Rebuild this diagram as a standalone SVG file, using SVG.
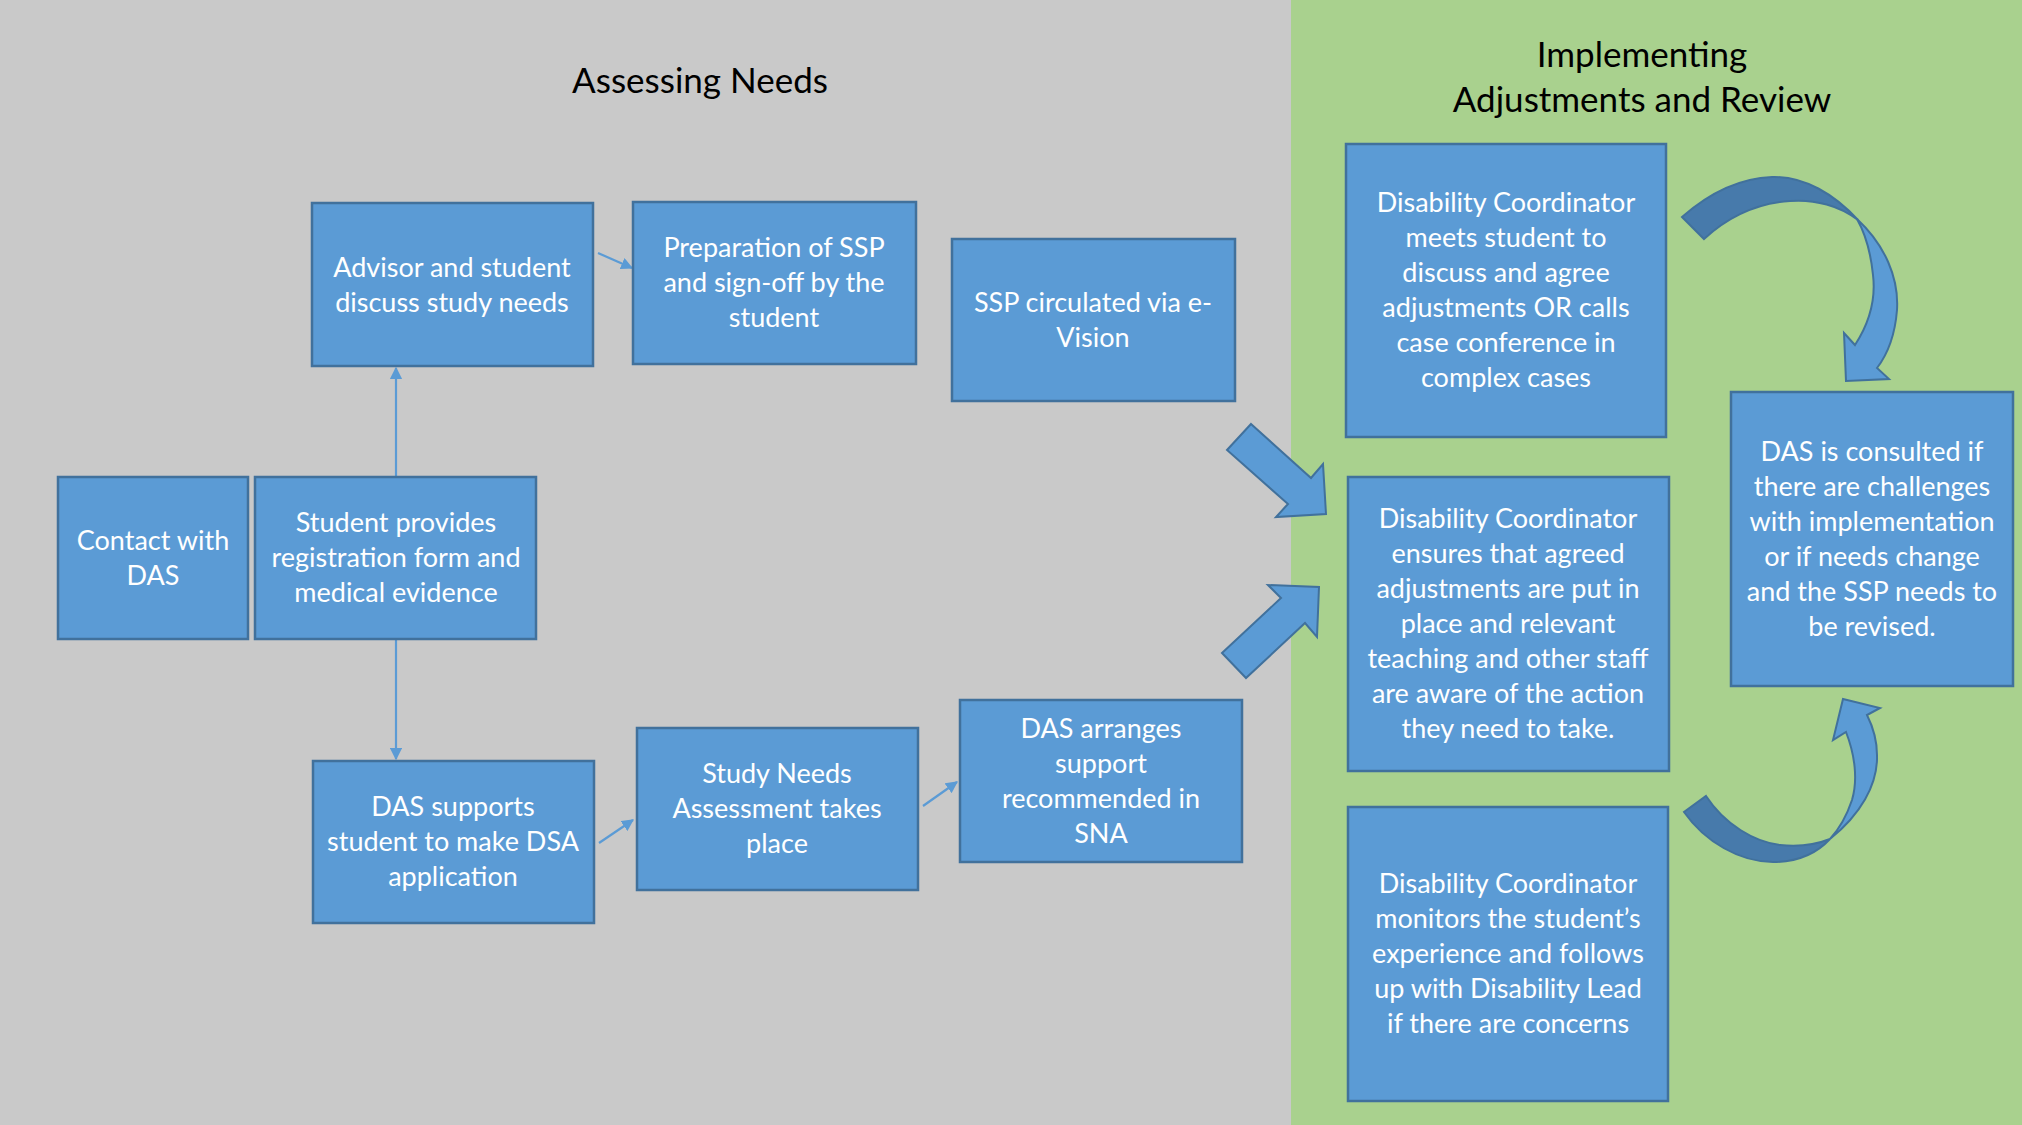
<svg xmlns="http://www.w3.org/2000/svg" width="2022" height="1125" viewBox="0 0 2022 1125">
<defs>
<style>
.box{fill:#5b9bd5;stroke:#41719c;stroke-width:2.5}
.t{font-family:Lato,"Open Sans","Liberation Sans",sans-serif;font-size:27px;fill:#ffffff;text-anchor:middle}
.title{font-family:Lato,"Open Sans","Liberation Sans",sans-serif;font-size:35px;fill:#000000;text-anchor:middle}
.conn{stroke:#5b9bd5;stroke-width:2.2;fill:none;marker-end:url(#ah)}
.blk{fill:#5b9bd5;stroke:#41719c;stroke-width:2;stroke-linejoin:miter}
.dark{fill:#477aab;stroke:#41719c;stroke-width:2}
</style>
<marker id="ah" viewBox="0 0 10 10" refX="9" refY="5" markerWidth="5.5" markerHeight="5.5" orient="auto" markerUnits="strokeWidth">
<path d="M0,0 L10,5 L0,10 Z" fill="#5b9bd5"/>
</marker>
</defs>
<rect x="0" y="0" width="1291" height="1125" fill="#c9c9c9"/>
<rect x="1291" y="0" width="731" height="1125" fill="#a9d18e"/>
<g id="titles">
<text class="title" x="700" y="93">Assessing Needs</text>
<text class="title" x="1642" y="67">Implementing</text>
<text class="title" x="1642" y="112">Adjustments and Review</text>
</g>
<g id="connectors">
<line class="conn" x1="396" y1="477" x2="396" y2="368"/>
<line class="conn" x1="396" y1="639" x2="396" y2="759"/>
<line class="conn" x1="598" y1="253" x2="632" y2="268"/>
<line class="conn" x1="599" y1="843" x2="633" y2="820"/>
<line class="conn" x1="923" y1="806" x2="957" y2="782"/>
<polygon class="blk" points="1251,424 1311,478 1323,464 1326,514 1276,517 1288,504 1227,450"/>
<polygon class="blk" points="1222,653 1281,598 1268,585 1319,587 1317,637 1305,623 1246,678"/>
<path class="dark" d="M1682,217 C1715,188 1745,178 1772,177 C1805,176 1835,195 1858,220 C1840,206 1815,199 1790,201 C1760,203 1730,215 1704,239 Z"/>
<path class="blk" d="M1857,219 C1885,245 1899,278 1897,310 C1895,335 1887,355 1877,368 L1889,379 L1846,381 L1844,333 L1855,345 C1868,325 1876,300 1873,275 C1871,255 1866,235 1857,219 Z"/>
<path class="dark" d="M1684,812 C1705,842 1740,862 1773,862 C1800,862 1818,852 1830,839 C1815,845 1800,847 1780,845 C1755,842 1725,825 1706,796 Z"/>
<path class="blk" d="M1830,839 C1860,815 1878,785 1877,755 C1877,740 1872,725 1867,715 L1880,708 L1843,699 L1833,740 L1846,732 C1855,755 1858,780 1852,800 C1847,815 1840,828 1830,839 Z"/>
</g>
<g id="contact">
<rect class="box" x="58" y="477" width="190" height="162"/>
<text class="t" x="153" y="550">Contact with</text>
<text class="t" x="153" y="585">DAS</text>
</g>
<g id="student-provides">
<rect class="box" x="255" y="477" width="281" height="162"/>
<text class="t" x="396" y="532">Student provides</text>
<text class="t" x="396" y="567">registration form and</text>
<text class="t" x="396" y="602">medical evidence</text>
</g>
<g id="advisor">
<rect class="box" x="312" y="203" width="281" height="163"/>
<text class="t" x="452" y="277">Advisor and student</text>
<text class="t" x="452" y="312">discuss study needs</text>
</g>
<g id="preparation">
<rect class="box" x="633" y="202" width="283" height="162"/>
<text class="t" x="774" y="257">Preparation of SSP</text>
<text class="t" x="774" y="292">and sign-off by the</text>
<text class="t" x="774" y="327">student</text>
</g>
<g id="circulated">
<rect class="box" x="952" y="239" width="283" height="162"/>
<text class="t" x="1093" y="312">SSP circulated via e-</text>
<text class="t" x="1093" y="347">Vision</text>
</g>
<g id="das-supports">
<rect class="box" x="313" y="761" width="281" height="162"/>
<text class="t" x="453" y="816">DAS supports</text>
<text class="t" x="453" y="851">student to make DSA</text>
<text class="t" x="453" y="886">application</text>
</g>
<g id="sna">
<rect class="box" x="637" y="728" width="281" height="162"/>
<text class="t" x="777" y="783">Study Needs</text>
<text class="t" x="777" y="818">Assessment takes</text>
<text class="t" x="777" y="853">place</text>
</g>
<g id="das-arranges">
<rect class="box" x="960" y="700" width="282" height="162"/>
<text class="t" x="1101" y="738">DAS arranges</text>
<text class="t" x="1101" y="773">support</text>
<text class="t" x="1101" y="808">recommended in</text>
<text class="t" x="1101" y="843">SNA</text>
</g>
<g id="dc-meets">
<rect class="box" x="1346" y="144" width="320" height="293"/>
<text class="t" x="1506" y="212">Disability Coordinator</text>
<text class="t" x="1506" y="247">meets student to</text>
<text class="t" x="1506" y="282">discuss and agree</text>
<text class="t" x="1506" y="317">adjustments OR calls</text>
<text class="t" x="1506" y="352">case conference in</text>
<text class="t" x="1506" y="387">complex cases</text>
</g>
<g id="dc-ensures">
<rect class="box" x="1348" y="477" width="321" height="294"/>
<text class="t" x="1508" y="528">Disability Coordinator</text>
<text class="t" x="1508" y="563">ensures that agreed</text>
<text class="t" x="1508" y="598">adjustments are put in</text>
<text class="t" x="1508" y="633">place and relevant</text>
<text class="t" x="1508" y="668">teaching and other staff</text>
<text class="t" x="1508" y="703">are aware of the action</text>
<text class="t" x="1508" y="738">they need to take.</text>
</g>
<g id="dc-monitors">
<rect class="box" x="1348" y="807" width="320" height="294"/>
<text class="t" x="1508" y="893">Disability Coordinator</text>
<text class="t" x="1508" y="928">monitors the student’s</text>
<text class="t" x="1508" y="963">experience and follows</text>
<text class="t" x="1508" y="998">up with Disability Lead</text>
<text class="t" x="1508" y="1033">if there are concerns</text>
</g>
<g id="das-consulted">
<rect class="box" x="1731" y="392" width="282" height="294"/>
<text class="t" x="1872" y="461">DAS is consulted if</text>
<text class="t" x="1872" y="496">there are challenges</text>
<text class="t" x="1872" y="531">with implementation</text>
<text class="t" x="1872" y="566">or if needs change</text>
<text class="t" x="1872" y="601">and the SSP needs to</text>
<text class="t" x="1872" y="636">be revised.</text>
</g>
</svg>
